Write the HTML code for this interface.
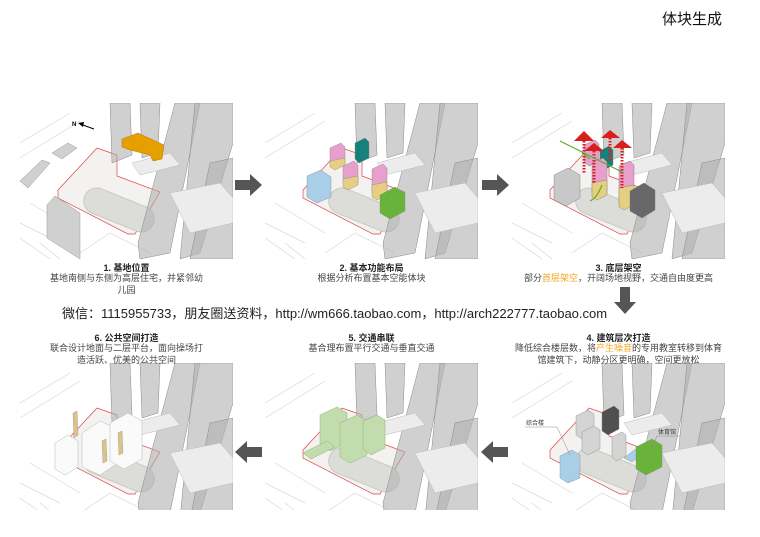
<!DOCTYPE html>
<html><head><meta charset="utf-8"><style>
body{margin:0;background:#fff;}
#c{position:relative;width:760px;height:537px;overflow:hidden;background:#fff;font-family:"Liberation Sans","Noto Sans CJK SC",sans-serif;color:#333;}
.t{position:absolute;white-space:nowrap;text-align:center;}
.cap{font-size:9px;color:#222;font-weight:bold;}
.d{font-size:9px;color:#444;line-height:12px;}
.o{color:#f5a623;}
svg{position:absolute;}
</style></head><body><div id="c">
<svg width="760" height="537" style="left:0;top:0">
<defs>
<g id="base">
 <rect width="213" height="156" fill="#fff"/>
 <g stroke="#d8d8d8" stroke-width="0.7" fill="none">
  <path d="M0 40 L50 10 M0 55 L60 18 M0 120 L40 140 M0 135 L30 156 M40 156 L20 140 M10 100 L60 130"/>
  <path d="M60 150 L90 130 L130 150"/>
 </g>
 <polygon points="38,87 77,45 97,52 97,73 140,89 115,131 108,131 38,95" fill="#f3f2f1" stroke="#e04040" stroke-width="0.7"/>
 <rect x="62" y="94" width="74" height="26" rx="13" fill="#dcdcd8" stroke="#c8c8c4" transform="rotate(22 99 107)"/>
 <g fill="#b0b0b0" fill-opacity="0.6" stroke="#8a8a8a" stroke-width="0.5">
  <polygon points="90,0 110,0 112,52 92,60"/>
  <polygon points="120,0 140,0 138,50 122,55"/>
  <polygon points="155,0 180,0 150,150 120,156 118,140"/>
  <polygon points="175,0 213,0 213,40 180,150 160,156"/>
  <polygon points="190,60 213,55 213,156 170,156"/>
 </g>
 <g fill="#ececec" stroke="#bbb" stroke-width="0.5">
  <polygon points="150,90 200,80 213,95 213,120 170,130"/>
  <polygon points="112,60 150,50 160,62 120,72"/>
 </g>
</g>
<clipPath id="cp"><rect width="213" height="156"/></clipPath>
<clipPath id="cp2"><rect width="213" height="147"/></clipPath>
<g id="arr"><rect x="0" y="-5" width="16" height="10" fill="#555"/><polygon points="15,-11 27,0 15,11" fill="#555"/></g>
</defs>

<g transform="translate(20,103)" clip-path="url(#cp)">
 <use href="#base"/>
 <g fill="#d0d0d0" stroke="#999" stroke-width="0.5">
  <polygon points="0,78 22,57 30,60 8,85"/>
  <polygon points="32,50 48,40 57,45 42,56"/>
  <polygon points="27,102 35,93 60,110 60,156 27,135"/>
 </g>
 <polygon points="102,36 118,30 144,42 142,56 133,58 130,52 110,47 102,44" fill="#e5a000" stroke="#b87a00" stroke-width="0.5"/>
 <text x="52" y="23" font-size="6" font-weight="bold" fill="#000">N</text>
 <path d="M60 21 L74 26" stroke="#000" stroke-width="1"/><polygon points="58,20 64,19 63,24" fill="#000"/>
</g>
<g transform="translate(265,103)" clip-path="url(#cp)">
 <use href="#base"/>
 <g stroke="#888" stroke-width="0.4">
  <polygon points="65,45 76,40 80,44 80,60 70,65 65,60" fill="#e79fcb"/>
  <polygon points="65,58 80,55 80,62 70,67 65,64" fill="#e6cf80"/>
  <polygon points="90,40 100,35 104,39 104,55 94,60 90,56" fill="#16807a"/>
  <polygon points="78,63 89,58 93,62 93,80 83,85 78,80" fill="#e79fcb"/>
  <polygon points="78,76 93,73 93,82 83,87 78,84" fill="#e6cf80"/>
  <polygon points="107,66 118,61 122,65 122,90 112,95 107,90" fill="#e79fcb"/>
  <polygon points="107,82 122,79 122,92 112,97 107,94" fill="#e6cf80"/>
  <polygon points="42,73 56,67 66,74 66,94 52,100 42,94" fill="#a9cfe8"/>
  <polygon points="115,92 130,84 140,90 140,108 125,116 115,110" fill="#6ab33a"/>
 </g>
</g>
<g transform="translate(512,103)" clip-path="url(#cp)">
 <use href="#base"/>
 <g stroke="#777" stroke-width="0.4">
  <polygon points="42,72 56,65 68,72 68,95 54,103 42,97" fill="#c8c8c8"/>
  <polygon points="72,42 83,37 87,41 87,58 77,63 72,59" fill="#e79fcb"/>
  <polygon points="88,48 97,43 101,47 101,62 92,67 88,63" fill="#16807a"/>
  <polygon points="80,60 91,55 95,59 95,90 85,95 80,90" fill="#e79fcb"/>
  <polygon points="80,80 95,77 95,92 85,97 80,94" fill="#e6cf80"/>
  <polygon points="107,63 118,58 122,62 122,100 112,105 107,100" fill="#e79fcb"/>
  <polygon points="107,85 122,82 122,102 112,107 107,104" fill="#e6cf80"/>
  <polygon points="118,88 132,80 143,87 143,107 130,115 118,108" fill="#686868"/>
 </g>
 <g fill="#d91e1e">
  <polygon points="62,38 72,28 82,38"/><polygon points="72,48 82,40 92,48"/><polygon points="89,35 98,27 108,35"/><polygon points="101,45 110,37 120,45"/>
 </g>
 <g stroke="#d91e1e" stroke-width="3" stroke-dasharray="1.5 1.5"><path d="M72 38 V70 M82 48 V80 M98 35 V58 M110 45 V85"/></g>
 <g stroke="#58b030" stroke-width="1.2" fill="none"><path d="M48 38 L112 70"/><path d="M90 82 Q85 95 78 98"/><path d="M70 50 L78 56"/></g>
</g>
<g transform="translate(20,363)" clip-path="url(#cp2)">
 <use href="#base"/>
 <g fill="#fafafa" stroke="#bbb" stroke-width="0.5">
  <polygon points="62,70 80,58 98,66 98,100 80,112 62,104"/>
  <polygon points="90,60 108,50 122,58 122,96 104,106 90,98"/>
  <polygon points="35,80 48,72 58,78 58,104 45,112 35,106"/>
 </g>
 <g fill="#d8c490" stroke="#a89060" stroke-width="0.4">
  <polygon points="53,50 57,48 58,72 54,75"/><polygon points="98,70 102,68 103,90 99,92"/><polygon points="82,78 86,76 87,98 83,100"/>
 </g>
</g>
<g transform="translate(265,363)" clip-path="url(#cp2)">
 <use href="#base"/>
 <g fill="#c2dcae" stroke="#8fb872" stroke-width="0.5">
  <polygon points="55,52 72,44 82,50 82,80 65,88 55,82"/>
  <polygon points="75,60 92,52 102,58 102,92 85,100 75,94"/>
  <polygon points="98,58 112,52 120,57 120,85 106,92 98,86"/>
  <polygon points="38,90 62,78 70,84 46,96"/>
 </g>
</g>
<g transform="translate(512,363)" clip-path="url(#cp2)">
 <use href="#base"/>
 <g stroke="#888" stroke-width="0.4">
  <polygon points="64,53 76,47 82,51 82,70 70,76 64,72" fill="#d4d4d4"/>
  <polygon points="70,69 82,63 88,67 88,86 76,92 70,88" fill="#d4d4d4"/>
  <polygon points="90,49 102,43 107,47 107,66 96,72 90,68" fill="#505050"/>
  <polygon points="100,74 110,69 114,72 114,93 104,98 100,94" fill="#d4d4d4"/>
  <polygon points="48,93 60,87 68,92 68,115 56,120 48,115" fill="#a9cfe8"/>
  <polygon points="112,95 125,85 133,89 120,99" fill="#a9cfe8"/>
  <polygon points="124,84 140,76 150,82 150,104 134,112 124,106" fill="#6ab33a"/>
 </g>
 <path d="M13 64 H45 L58 92" stroke="#888" stroke-width="0.5" fill="none"/>
 <text x="14" y="62" font-size="6" fill="#333">综合楼</text>
 <path d="M137 92 L145 73 H168" stroke="#888" stroke-width="0.5" fill="none"/>
 <text x="146" y="71" font-size="6" fill="#333">体育馆</text>
</g>
<use href="#arr" transform="translate(235,185)"/>
<use href="#arr" transform="translate(482,185)"/>
<use href="#arr" transform="translate(262,452) scale(-1,1)"/>
<use href="#arr" transform="translate(508,452) scale(-1,1)"/>
<use href="#arr" transform="translate(625,287) rotate(90)"/>
</svg>

<div class="t" style="left:662px;top:8px;font-size:15px;color:#111;">体块生成</div>

<div class="t cap" style="left:20px;width:213px;top:261px;">1. 基地位置</div>
<div class="t d" style="left:20px;width:213px;top:272px;">基地南侧与东侧为高层住宅，并紧邻幼<br>儿园</div>
<div class="t cap" style="left:265px;width:213px;top:261px;">2. 基本功能布局</div>
<div class="t d" style="left:265px;width:213px;top:272px;">根据分析布置基本空能体块</div>
<div class="t cap" style="left:512px;width:213px;top:261px;">3. 底层架空</div>
<div class="t d" style="left:500px;width:237px;top:272px;">部分<span class="o">首层架空</span>，开阔场地视野，交通自由度更高</div>

<div class="t" style="left:62px;top:303px;font-size:13px;color:#222;">微信：1115955733，朋友圈送资料，http://wm666.taobao.com，http://arch222777.taobao.com</div>

<div class="t cap" style="left:20px;width:213px;top:331px;">6. 公共空间打造</div>
<div class="t d" style="left:20px;width:213px;top:342px;">联合设计地面与二层平台，面向操场打<br>造活跃、优美的公共空间</div>
<div class="t cap" style="left:265px;width:213px;top:331px;">5. 交通串联</div>
<div class="t d" style="left:265px;width:213px;top:342px;">基合理布置平行交通与垂直交通</div>
<div class="t cap" style="left:512px;width:213px;top:331px;">4. 建筑层次打造</div>
<div class="t d" style="left:500px;width:237px;top:342px;">降低综合楼层数，将<span class="o">产生噪音</span>的专用教室转移到体育<br>馆建筑下，动静分区更明确，空间更放松</div>
</div></body></html>
